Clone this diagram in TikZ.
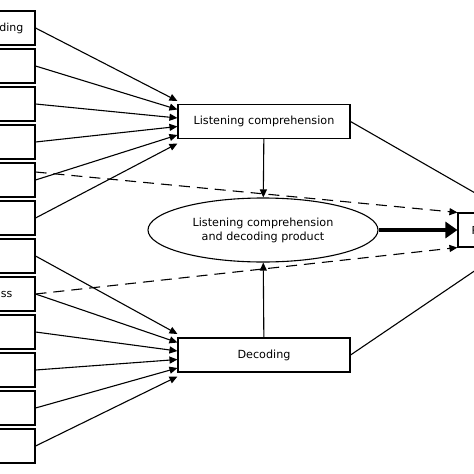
\documentclass[tikz,border=0pt]{standalone}
\usepackage{fontspec}
\setmainfont{DejaVu Sans}
\usetikzlibrary{arrows.meta, shapes.geometric, calc}

\begin{document}
\begin{tikzpicture}[x=1pt, y=-1pt]

\tikzset{measure/.style = {shape=rectangle, draw, line width=1.1pt, minimum width=115pt, minimum height=34pt, inner sep=0pt}}
\tikzset{factor/.style = {shape=rectangle, draw, line width=1.1pt, minimum width=172pt, minimum height=34pt, font=\fontsize{11.2}{13}\selectfont}}
\tikzset{product/.style = {shape=ellipse, draw, line width=1.1pt, minimum width=230pt, minimum height=64pt, inner sep=0pt, align=center, font=\fontsize{11.2}{14}\selectfont}}
\tikzset{edge/.style = {-{Triangle[length=8pt,width=7pt]}, line width=1.1pt}}
\tikzset{direct/.style = {edge, dash pattern=on 11pt off 7pt}}
\tikzset{frag/.style = {inner sep=0pt, font=\fontsize{11}{13}\selectfont}}

\useasboundingbox (0,0) rectangle (474,474);
\clip (0,0) rectangle (474,474);

% measures
\foreach \i in {1,...,12}
  \node[measure] (b\i) at (-22.5, {28+38*(\i-1)}) {};
\node[frag, anchor=east] (t1) at (23.5,28) {ding};
\node[frag, anchor=east] (t8) at (12.5,294) {ss};

% factors
\node[factor] (lc) at (264,121.5) {Listening comprehension};
\node[factor] (dec) at (264,355) {Decoding};
\node[product] (prod) at (263,230) {Listening comprehension\\and decoding product};
\node[measure, minimum width=102pt] (out) at (509,230) {};
\node[frag, anchor=west] (tout) at (471.5,230) {R};

%edges
\foreach \i/\d in {1/-20.5,2/-12,3/-3.5,4/5,5/13.5,6/22}
  \draw [edge] (b\i.east) -- ($(lc.west)+(0,\d)$);
\foreach \i/\d in {7/-21,8/-12.5,9/-4,10/4.5,11/13,12/21.5}
  \draw [edge] (b\i.east) -- ($(dec.west)+(0,\d)$);
\draw [edge] (lc) -- (prod);
\draw [edge] (dec) -- (prod);
\draw [-{Triangle[length=12pt,width=16pt]}, line width=4.5pt] (prod) -- (out.west);
\draw [edge] (lc.east) -- (out.north);
\draw [edge] (dec.east) -- (out.south);
\draw [direct] ($(b5.east)+(0,-8)$) -- (out.north west);
\draw [direct] (b8.east) -- (out.south west);
\end{tikzpicture}
\end{document}
